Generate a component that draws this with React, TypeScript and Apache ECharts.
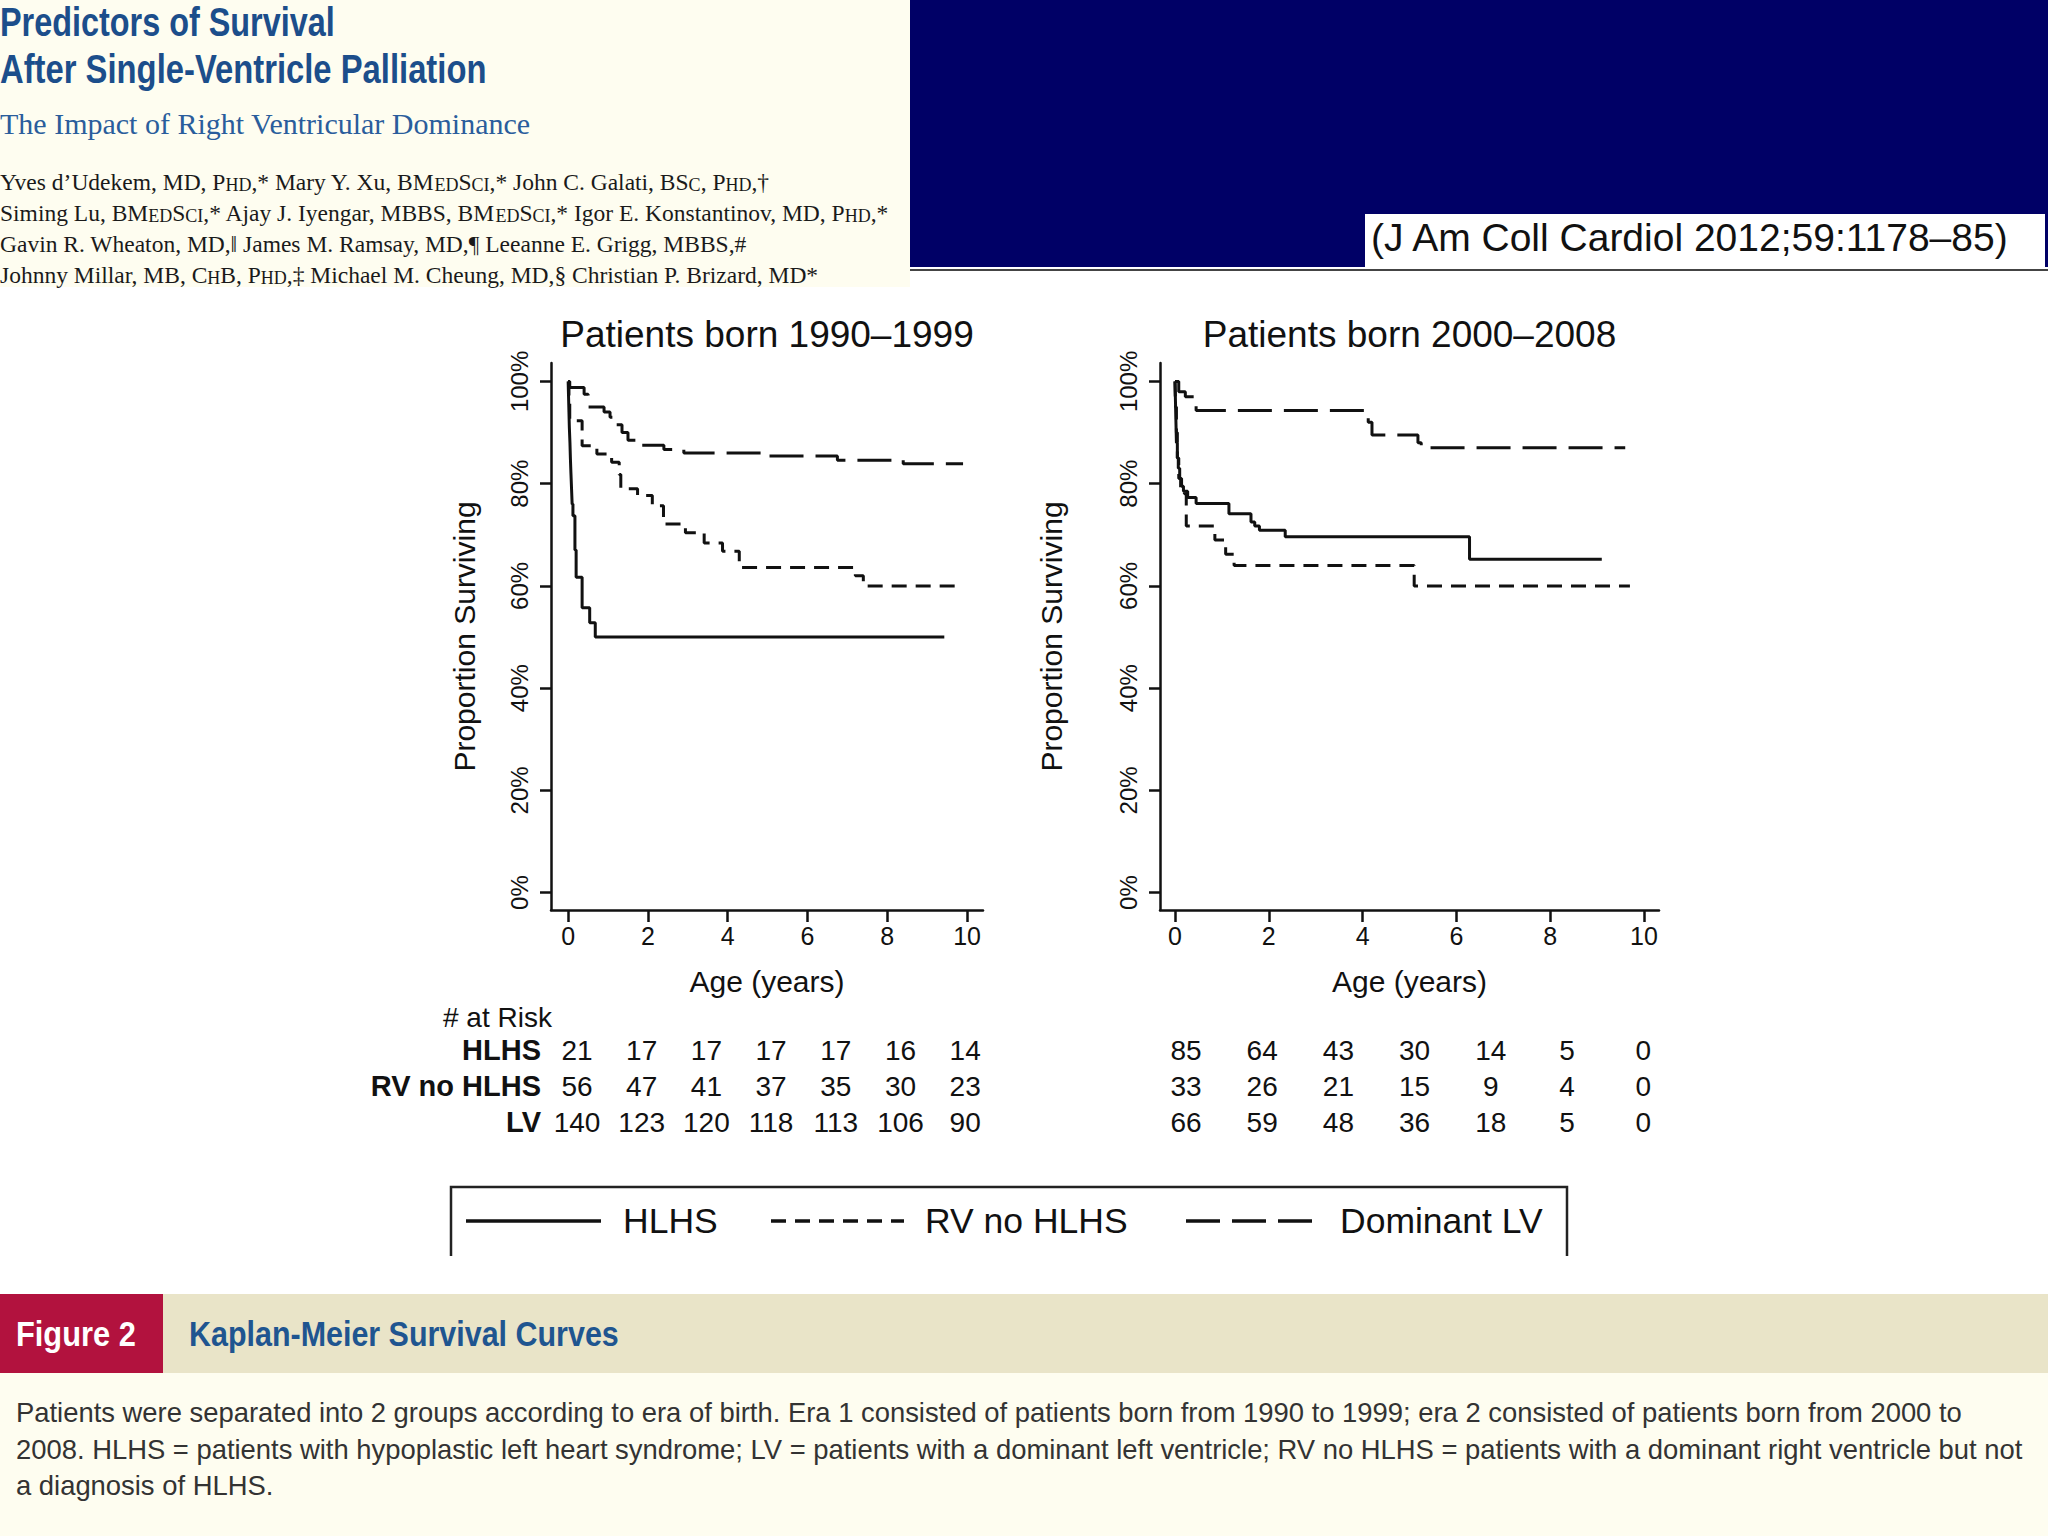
import React, { useEffect, useRef } from "react";
import * as echarts from "echarts";

const FONT = "'Liberation Sans', Arial, sans-serif";
const SERIF = "'Liberation Serif', 'Times New Roman', serif";
const INK = "#111111";

// ---------- data ----------
const AGE_TICKS = [0, 2, 4, 6, 8, 10];
const PCT_TICKS = [0, 20, 40, 60, 80, 100];
const GROUPS = ["HLHS", "RV no HLHS", "Dominant LV"];
const PANEL_TITLES = ["Patients born 1990\u20131999", "Patients born 2000\u20132008"];

// Era 1 (1990-1999): event times (years) and survival (%)
const E1_HLHS_T = [0, 0.01, 0.02, 0.03, 0.045, 0.056, 0.07, 0.085, 0.1, 0.12, 0.17, 0.2, 0.35, 0.54, 0.68, 9.43];
const E1_HLHS_S = [100, 97, 94, 91, 88, 85, 82, 79, 76, 73.7, 67, 61.7, 55.7, 52.8, 50, 50];
const E1_RV_T = [0, 0.02, 0.04, 0.35, 0.72, 1.09, 1.28, 1.32, 1.74, 2.11, 2.39, 2.94, 3.41, 3.87, 4.29, 7.2, 7.4, 9.8];
const E1_RV_S = [100, 96, 92.3, 87.4, 85.8, 84.2, 81.8, 79, 77.7, 75.7, 72.1, 70.4, 68.4, 66.8, 63.6, 62, 60, 60];
const E1_LV_T = [0, 0.04, 0.4, 0.5, 0.9, 1.05, 1.15, 1.35, 1.5, 1.7, 2.4, 2.9, 5.0, 6.75, 8.4, 9.9];
const E1_LV_S = [100, 98.8, 97.5, 95, 94, 93, 91.5, 90, 88.5, 87.5, 86.7, 86, 85.4, 84.6, 83.9, 83.9];

// Era 2 (2000-2008)
const E2_HLHS_T = [0, 0.01, 0.02, 0.03, 0.05, 0.07, 0.1, 0.14, 0.18, 0.27, 0.45, 1.15, 1.62, 1.7, 1.8, 2.35, 6.28, 9.1];
const E2_HLHS_S = [100, 96, 92, 88, 85, 83, 81, 79.5, 78.5, 77.3, 76.1, 74.1, 72.5, 71.7, 70.9, 69.6, 65.2, 65.2];
const E2_RV_T = [0, 0.01, 0.03, 0.05, 0.08, 0.12, 0.2, 0.24, 0.85, 1.08, 1.26, 5.1, 9.7];
const E2_RV_S = [100, 95, 90, 85, 81, 79, 78, 71.7, 69, 66.2, 64, 60, 60];
const E2_LV_T = [0, 0.08, 0.22, 0.45, 4.12, 4.2, 5.18, 5.25, 9.6];
const E2_LV_S = [100, 98, 97, 94.3, 92, 89.5, 88, 87, 87];

// numbers at risk
const RISK_ROWS = ["HLHS", "RV no HLHS", "LV"];
const E1_RISK_HLHS = [21, 17, 17, 17, 17, 16, 14];
const E1_RISK_RV = [56, 47, 41, 37, 35, 30, 23];
const E1_RISK_LV = [140, 123, 120, 118, 113, 106, 90];
const E2_RISK_HLHS = [85, 64, 43, 30, 14, 5, 0];
const E2_RISK_RV = [33, 26, 21, 15, 9, 4, 0];
const E2_RISK_LV = [66, 59, 48, 36, 18, 5, 0];

// ---------- texts ----------
const TITLE_1 = "Predictors of Survival";
const TITLE_2 = "After Single-Ventricle Palliation";
const SUBTITLE = "The Impact of Right Ventricular Dominance";
const AUTHORS = [
  "Yves d\u2019Udekem, MD, P{sc|HD},* Mary Y. Xu, BM{sc|ED}S{sc|CI},* John C. Galati, BS{sc|C}, P{sc|HD},\u2020",
  "Siming Lu, BM{sc|ED}S{sc|CI},* Ajay J. Iyengar, MBBS, BM{sc|ED}S{sc|CI},* Igor E. Konstantinov, MD, P{sc|HD},*",
  "Gavin R. Wheaton, MD,\u2016 James M. Ramsay, MD,\u00b6 Leeanne E. Grigg, MBBS,#",
  "Johnny Millar, MB, C{sc|H}B, P{sc|HD},\u2021 Michael M. Cheung, MD,\u00a7 Christian P. Brizard, MD*",
];
const CITATION = "(J Am Coll Cardiol 2012;59:1178\u201385)";
const FIG_LABEL = "Figure 2";
const FIG_TITLE = "Kaplan-Meier Survival Curves";
const CAPTION = [
  "Patients were separated into 2 groups according to era of birth. Era 1 consisted of patients born from 1990 to 1999; era 2 consisted of patients born from 2000 to",
  "2008. HLHS = patients with hypoplastic left heart syndrome; LV = patients with a dominant left ventricle; RV no HLHS = patients with a dominant right ventricle but not",
  "a diagnosis of HLHS.",
];

// ---------- layout ----------
const GRIDS = [
  { left: 551, top: 363, width: 432, height: 547, xMin: -0.43, xMax: 10.4, nameGap: 72 },
  { left: 1160, top: 363, width: 499, height: 547, xMin: -0.32, xMax: 10.32, nameGap: 94 },
];
const Y_MIN = -3.4;
const Y_MAX = 103.6;

function km(t: number[], s: number[]) {
  return t.map((x, i) => [x, s[i]]);
}

const DASHES: any[] = ["solid", [15, 9], [34, 12]];
const LEGEND_DASH: any[] = [null, [15, 9], [34, 12]];

function buildSeries() {
  const eras = [
    [km(E1_HLHS_T, E1_HLHS_S), km(E1_RV_T, E1_RV_S), km(E1_LV_T, E1_LV_S)],
    [km(E2_HLHS_T, E2_HLHS_S), km(E2_RV_T, E2_RV_S), km(E2_LV_T, E2_LV_S)],
  ];
  const out: any[] = [];
  eras.forEach((groups, gi) => {
    groups.forEach((data, k) => {
      out.push({
        type: "line",
        name: GROUPS[k],
        xAxisIndex: gi,
        yAxisIndex: gi,
        data,
        step: "end",
        symbol: "none",
        silent: true,
        lineStyle: { color: INK, width: 3, type: DASHES[k] },
        itemStyle: { color: INK },
      });
    });
  });
  return out;
}

function txt(x: number, y: number, text: string, font: string, fill: string, align = "left", extra: any = {}) {
  return {
    type: "text",
    x,
    y,
    silent: true,
    ...extra,
    style: { text, font, fill, textAlign: align, textVerticalAlign: "middle", ...(extra.style || {}) },
  };
}

function buildGraphic() {
  const g: any[] = [];
  // header backgrounds
  g.push({ type: "rect", shape: { x: 0, y: 0, width: 910, height: 287 }, style: { fill: "#fefdf0" }, silent: true });
  g.push({ type: "rect", shape: { x: 910, y: 0, width: 1138, height: 267 }, style: { fill: "#000066" }, silent: true });
  g.push({ type: "rect", shape: { x: 1365, y: 214, width: 680, height: 54 }, style: { fill: "#ffffff" }, silent: true });
  g.push({ type: "line", shape: { x1: 910, y1: 270, x2: 2048, y2: 270 }, style: { stroke: "#444", lineWidth: 2 }, silent: true });
  g.push(txt(1371, 237, CITATION, `39px ${FONT}`, "#111", "left"));
  // title block
  g.push(txt(0, 22, TITLE_1, `bold 40px ${FONT}`, "#1c4e8b", "left", { scaleX: 0.81 }));
  g.push(txt(0, 69, TITLE_2, `bold 40px ${FONT}`, "#1c4e8b", "left", { scaleX: 0.82 }));
  g.push(txt(0, 123, SUBTITLE, `30px ${SERIF}`, "#2a5d9c"));
  AUTHORS.forEach((a, i) => {
    g.push({
      type: "text",
      x: 0,
      y: 182 + i * 31,
      silent: true,
      style: {
        text: a,
        fontSize: 23.5,
        fontFamily: SERIF,
        fill: "#1a1a1a",
        textAlign: "left",
        textVerticalAlign: "middle",
        rich: { sc: { fontSize: 18, fontFamily: SERIF, fill: "#1a1a1a", verticalAlign: "bottom" } },
      },
    });
  });

  // panel titles
  GRIDS.forEach((gr, i) => {
    g.push(txt(gr.left + gr.width / 2, 334, PANEL_TITLES[i], `37px ${FONT}`, INK, "center"));
  });

  // numbers at risk
  g.push(txt(443, 1017, "# at Risk", `28px ${FONT}`, INK, "left"));
  const rowsY = [1050, 1086, 1122];
  RISK_ROWS.forEach((r, i) => g.push(txt(541, rowsY[i], r, `bold 29px ${FONT}`, INK, "right")));
  const e1 = [E1_RISK_HLHS, E1_RISK_RV, E1_RISK_LV];
  const e2 = [E2_RISK_HLHS, E2_RISK_RV, E2_RISK_LV];
  e1.forEach((row, i) =>
    row.forEach((v, j) => g.push(txt(577 + j * 64.7, rowsY[i], String(v), `28px ${FONT}`, INK, "center")))
  );
  e2.forEach((row, i) =>
    row.forEach((v, j) => g.push(txt(1186 + j * 76.2, rowsY[i], String(v), `28px ${FONT}`, INK, "center")))
  );

  // legend frame (open bottom, cropped) and keys
  const frame = { stroke: "#222", lineWidth: 2.5 };
  g.push({ type: "polyline", shape: { points: [[451, 1256], [451, 1187], [1567, 1187], [1567, 1256]] }, style: { ...frame, fill: "none" }, silent: true });
  const keyX = [466, 771, 1186];
  const keyW = [135, 133, 131];
  const keyTextX = [623, 925, 1340];
  GROUPS.forEach((name, k) => {
    const st: any = { stroke: INK, lineWidth: 3.5 };
    if (LEGEND_DASH[k]) st.lineDash = LEGEND_DASH[k];
    g.push({ type: "line", shape: { x1: keyX[k], y1: 1221, x2: keyX[k] + keyW[k], y2: 1221 }, style: st, silent: true });
    g.push(txt(keyTextX[k], 1221, name, `35.5px ${FONT}`, INK, "left"));
  });

  // figure caption bar
  g.push({ type: "rect", shape: { x: 0, y: 1294, width: 2048, height: 79 }, style: { fill: "#e9e4c8" }, silent: true });
  g.push({ type: "rect", shape: { x: 0, y: 1294, width: 163, height: 79 }, style: { fill: "#b2123e" }, silent: true });
  g.push({ type: "rect", shape: { x: 0, y: 1373, width: 2048, height: 163 }, style: { fill: "#fefdf0" }, silent: true });
  g.push(txt(16, 1334, FIG_LABEL, `bold 35px ${FONT}`, "#ffffff", "left", { scaleX: 0.88 }));
  g.push(txt(189, 1334, FIG_TITLE, `bold 35px ${FONT}`, "#1f5590", "left", { scaleX: 0.87 }));
  CAPTION.forEach((line, i) => {
    g.push(txt(16, 1413 + i * 36.5, line, `27px ${FONT}`, "#333333", "left", { scaleX: 1.015 }));
  });
  return g;
}

function buildOption() {
  const xAxis = GRIDS.map((gr, i) => ({
    gridIndex: i,
    type: "value",
    min: gr.xMin,
    max: gr.xMax,
    axisLine: { show: true, onZero: false, lineStyle: { color: INK, width: 2.5 } },
    axisTick: { show: true, length: 12, customValues: AGE_TICKS, lineStyle: { color: INK, width: 2.5 } },
    axisLabel: { customValues: AGE_TICKS, fontSize: 25, color: INK, margin: 13, fontFamily: FONT },
    splitLine: { show: false },
    name: "Age (years)",
    nameLocation: "middle",
    nameGap: 56,
    nameTextStyle: { fontSize: 30, color: INK, fontFamily: FONT },
  }));
  const yAxis = GRIDS.map((gr, i) => ({
    gridIndex: i,
    type: "value",
    min: Y_MIN,
    max: Y_MAX,
    axisLine: { show: true, onZero: false, lineStyle: { color: INK, width: 2.5 } },
    axisTick: { show: true, length: 11, customValues: PCT_TICKS, lineStyle: { color: INK, width: 2.5 } },
    axisLabel: { customValues: PCT_TICKS, formatter: "{value}%", rotate: 90, fontSize: 24, color: INK, margin: 20, fontFamily: FONT },
    splitLine: { show: false },
    name: "Proportion Surviving",
    nameLocation: "middle",
    nameRotate: 90,
    nameGap: gr.nameGap,
    nameTextStyle: { fontSize: 30, color: INK, fontFamily: FONT },
  }));
  return {
    animation: false,
    backgroundColor: "#ffffff",
    textStyle: { fontFamily: FONT },
    grid: GRIDS.map((gr) => ({ left: gr.left, top: gr.top, width: gr.width, height: gr.height, containLabel: false })),
    xAxis,
    yAxis,
    series: buildSeries(),
    graphic: { elements: buildGraphic() },
  };
}

export default function App() {
  const ref = useRef<HTMLDivElement>(null);
  useEffect(() => {
    document.body.style.margin = "0";
    const chart = echarts.init(ref.current as HTMLDivElement, null, { renderer: "svg" });
    chart.setOption(buildOption() as any);
    return () => chart.dispose();
  }, []);
  return <div ref={ref} style={{ width: 2048, height: 1536 }} />;
}
